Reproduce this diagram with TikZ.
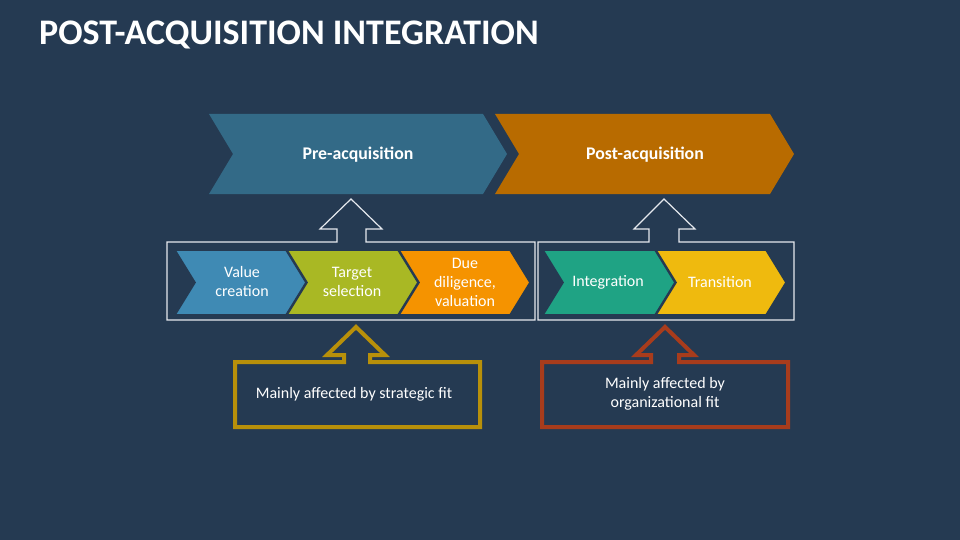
\documentclass[tikz,border=0pt]{standalone}
\usepackage{fontspec}
\setmainfont{Carlito}
\definecolor{bg}{HTML}{253A52}
\definecolor{prec}{HTML}{336A87}
\definecolor{postc}{HTML}{B86B00}
\definecolor{valc}{HTML}{3F8AB4}
\definecolor{tarc}{HTML}{A9B824}
\definecolor{duec}{HTML}{F59300}
\definecolor{intc}{HTML}{1FA384}
\definecolor{trac}{HTML}{EFBA0E}
\definecolor{goldc}{HTML}{B8900A}
\definecolor{redc}{HTML}{A83C1C}
\definecolor{linec}{HTML}{E6E9EE}
\newcommand\mychev[6]{% left, right, top, bottom, depth, colour
  \fill[#6] (#1,#3) -- (#2,#3) -- ({#2+#5},{(#3+#4)/2}) -- (#2,#4) -- (#1,#4) -- ({#1+#5},{(#3+#4)/2}) -- cycle;}
\newcommand\mysmallchev[6]{%
  \filldraw[fill=#6,draw=bg,line width=1.6pt,line join=miter] (#1,#3) -- (#2,#3) -- ({#2+#5},{(#3+#4)/2}) -- (#2,#4) -- (#1,#4) -- ({#1+#5},{(#3+#4)/2}) -- cycle;}
\tikzset{
  bigtxt/.style={text=white,font=\bfseries\fontsize{17.8}{21}\selectfont,align=center},
  smalltxt/.style={text=white,font=\fontsize{16}{19}\selectfont,align=center},
  notetxt/.style={text=white,font=\fontsize{16}{19.5}\selectfont,align=center},
  whiteline/.style={draw=linec,line width=1.2pt,line join=miter},
  thickline/.style={line width=4pt,line join=miter},
}
\begin{document}
\begin{tikzpicture}[x=1pt,y=-1pt]
\fill[bg] (0,0) rectangle (960,540);
\useasboundingbox (0,0) rectangle (960,540);
\node[anchor=west,text=white,font=\bfseries\fontsize{36}{42}\selectfont,inner sep=0pt] (title) at (39,35) {POST-ACQUISITION INTEGRATION};
% big chevrons
\mychev{209}{483}{114}{194}{24}{prec}
\mychev{495}{770}{114}{194}{24}{postc}
\node[bigtxt] (pre) at (358,155) {Pre-acquisition};
\node[bigtxt] (post) at (645,155) {Post-acquisition};
% small chevrons
\mysmallchev{175}{286}{250}{315}{20}{valc}
\mysmallchev{287}{398}{250}{315}{20}{tarc}
\mysmallchev{399}{510}{250}{315}{20}{duec}
\mysmallchev{543}{655}{250}{315}{20}{intc}
\mysmallchev{656}{766}{250}{315}{20}{trac}
\node[smalltxt] (val) at (242,282) {Value\\creation};
\node[smalltxt] (tar) at (352,282) {Target\\selection};
\node[smalltxt] (due) at (465,282) {Due\\diligence,\\valuation};
\node[smalltxt] (int) at (608,282) {Integration};
\node[smalltxt] (tra) at (720,282) {Transition};
% white outline boxes with arrows
\draw[whiteline] (167,242) -- (337,242) -- (337,229) -- (320,229) -- (351,199) -- (382,229) -- (366,229) -- (366,242) -- (535,242) -- (535,320) -- (167,320) -- cycle;
\draw[whiteline] (538,242) -- (649,242) -- (649,229) -- (634,229) -- (664,199) -- (695,229) -- (679,229) -- (679,242) -- (794,242) -- (794,320) -- (538,320) -- cycle;
% note boxes
\draw[thickline,draw=goldc] (235,362) -- (344,362) -- (344,355) -- (327,355) -- (356,327) -- (385,355) -- (370,355) -- (370,362) -- (480,362) -- (480,427) -- (235,427) -- cycle;
\draw[thickline,draw=redc] (542,362) -- (651,362) -- (651,355) -- (636,355) -- (665,327) -- (694,355) -- (679,355) -- (679,362) -- (788,362) -- (788,427) -- (542,427) -- cycle;
\node[notetxt] (strat) at (354,394) {Mainly affected by strategic fit};
\node[notetxt] (org) at (665,394) {Mainly affected by\\organizational fit};
\end{tikzpicture}
\end{document}
